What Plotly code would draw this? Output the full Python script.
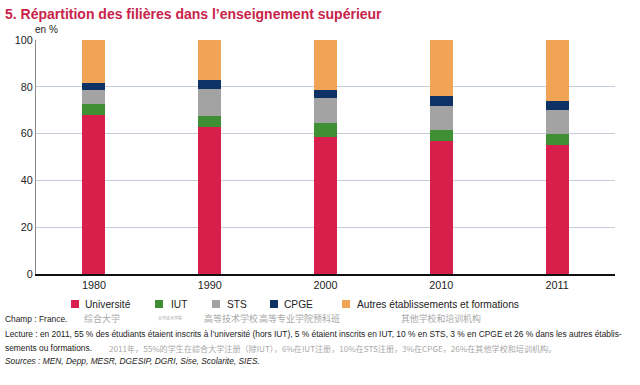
import plotly.graph_objects as go

years = ["1980", "1990", "2000", "2010", "2011"]
universite = [68.0, 63.0, 58.7, 57.0, 55.0]
iut = [4.5, 4.5, 5.7, 4.7, 5.0]
sts = [6.0, 11.7, 11.0, 10.3, 10.0]
cpge = [3.0, 3.5, 3.3, 4.0, 3.8]
autres = [18.5, 17.3, 21.3, 24.0, 26.2]

series_names = ["Université", "IUT", "STS", "CPGE", "Autres établissements et formations"]
series_cn = ["综合大学", "大学技术学院", "高等技术学校", "高等专业学院预科班", "其他学校和培训机构"]
series_values = [universite, iut, sts, cpge, autres]
colors = ["#d81f4b", "#3f8f35", "#a3a3a3", "#0e3166", "#f1a455"]

y_ticks = [0, 20, 40, 60, 80, 100]

SANS = "Liberation Sans, Arial, sans-serif"
CJK = "Noto Sans CJK SC, sans-serif"

# plot area in pixels
L, R, T, B = 36, 615, 40, 274
W, H = 640, 385

def px(x):
    return (x - L) / (R - L)

def py(y):
    return (B - y) / (B - T)

fig = go.Figure()
for name, vals, col in zip(series_names, series_values, colors):
    fig.add_trace(go.Bar(x=years, y=vals, name=name, marker=dict(color=col, line=dict(width=0))))

fig.update_layout(
    width=W, height=H,
    barmode="stack", bargap=0.8,
    margin=dict(l=L, r=W - R, t=T, b=H - B, pad=0),
    plot_bgcolor="white", paper_bgcolor="white",
    font=dict(family=SANS, size=11, color="#222"),
    showlegend=False,
    xaxis=dict(showline=True, linecolor="#111", linewidth=1.5, ticks="", automargin=False,
               tickfont=dict(family=SANS, size=10.8, color="#222"), showgrid=False),
    yaxis=dict(range=[0, 100], tickvals=y_ticks, showline=True, linecolor="#8a8a8a", linewidth=1,
               showgrid=True, gridcolor="#c3ced8", gridwidth=1, zeroline=False, automargin=False,
               ticks="", tickfont=dict(family=SANS, size=10.8, color="#222")),
)

# legend (manual, to match the reference spacing)
legend_sq_x = [75, 159, 216, 274, 346]
legend_txt_x = [84, 170, 226, 283, 356]
cn_x = [83, 157, 203, 258, 400]
cn_sizes = [9, 4, 9, 9, 8.9]
LEG_Y = 304
for name, cn, col, sx, tx, cx, cs in zip(series_names, series_cn, colors, legend_sq_x, legend_txt_x, cn_x, cn_sizes):
    fig.add_shape(type="rect", xref="paper", yref="paper",
                  x0=px(sx - 4), x1=px(sx + 4), y0=py(LEG_Y + 4), y1=py(LEG_Y - 4),
                  fillcolor=col, line=dict(width=0))
    fig.add_annotation(text=name, x=px(tx), y=py(LEG_Y), font=dict(family=SANS, size=10.2, color="#222"))
    fig.add_annotation(text=cn, x=px(cx), y=py(318), font=dict(family=CJK, size=cs, color="#a8a8a8"))

TXT = 8.4
annos = [
    dict(text="<b>5. Répartition des filières dans l’enseignement supérieur</b>", x=px(4), y=py(14),
         font=dict(family=SANS, size=14, color="#c8234a")),
    dict(text="en %", x=px(34), y=py(30), font=dict(family=SANS, size=10, color="#222")),
    dict(text="Champ : France.", x=px(4), y=py(319), font=dict(family=SANS, size=TXT, color="#222")),
    dict(text="Lecture : en 2011, 55 % des étudiants étaient inscrits à l’université (hors IUT), 5 % étaient inscrits en IUT, 10 % en STS, 3 % en CPGE et 26 % dans les autres établis-",
         x=px(4), y=py(334), font=dict(family=SANS, size=TXT, color="#222")),
    dict(text="sements ou formations.", x=px(4), y=py(348), font=dict(family=SANS, size=TXT, color="#222")),
    dict(text="2011年，55%的学生在综合大学注册（除IUT），6%在IUT注册，10%在STS注册，3%在CPGE，26%在其他学校和培训机构。",
         x=px(108), y=py(348), font=dict(family=CJK, size=8.1, color="#a8a8a8")),
    dict(text="<i>Sources : MEN, Depp, MESR, DGESIP, DGRI, Sise, Scolarite, SIES.</i>",
         x=px(4), y=py(361), font=dict(family=SANS, size=TXT, color="#222")),
]
for a in annos:
    fig.add_annotation(**a)

fig.update_annotations(xref="paper", yref="paper", xanchor="left", yanchor="middle",
                       showarrow=False, borderpad=0)

fig.write_html("out.html", config={"displayModeBar": False},
               post_script="document.body.style.margin='0px';")
